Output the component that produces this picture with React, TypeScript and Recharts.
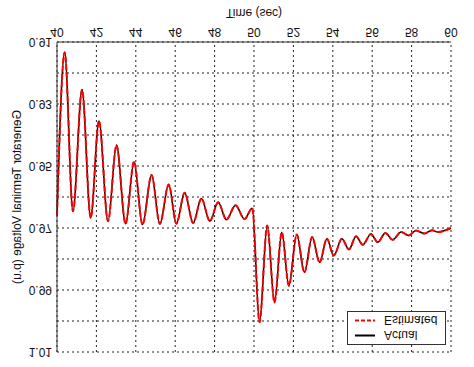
import { LineChart, Line, XAxis, YAxis, CartesianGrid, Legend } from "recharts";

// time stamps (sec) of the turning points
const timeSec = [
  40.0, 40.39, 40.81, 41.27, 41.71, 42.13, 42.59, 43.02, 43.48, 43.91, 44.34, 44.8, 45.22, 45.67, 46.06,
  46.48, 46.91, 47.33, 47.76, 48.18, 48.6, 49.06, 49.52, 49.91, 50.28, 50.67, 51.04, 51.41, 51.77, 52.17,
  52.56, 52.95, 53.33, 53.7, 54.05, 54.46, 54.82, 55.18, 55.52, 55.94, 56.28, 56.67, 57.04, 57.47, 57.85,
  58.22, 58.65, 59.04, 59.32, 60.0,
];

const actualPu = [
  0.966, 0.9133, 0.9646, 0.9254, 0.9667, 0.9355, 0.9678, 0.9433, 0.9686, 0.9486, 0.9689, 0.9529, 0.9687,
  0.956, 0.9686, 0.9586, 0.9684, 0.9605, 0.9678, 0.9617, 0.9673, 0.9627, 0.9671, 0.9636, 1.0004, 0.9692,
  0.994, 0.9714, 0.9886, 0.9721, 0.9843, 0.9729, 0.9811, 0.9735, 0.9789, 0.9735, 0.9769, 0.9727, 0.9754,
  0.9719, 0.9746, 0.9716, 0.9738, 0.9713, 0.9724, 0.9708, 0.9718, 0.9707, 0.9713, 0.97,
];

const estimatedPu = [
  0.966, 0.9133, 0.9646, 0.9254, 0.9667, 0.9355, 0.9678, 0.9433, 0.9686, 0.9486, 0.9689, 0.9529, 0.9687,
  0.956, 0.9686, 0.9586, 0.9684, 0.9605, 0.9678, 0.9617, 0.9673, 0.9627, 0.9671, 0.9636, 1.0004, 0.9692,
  0.994, 0.9714, 0.9886, 0.9721, 0.9843, 0.9729, 0.9811, 0.9735, 0.9789, 0.9735, 0.9769, 0.9727, 0.9754,
  0.9719, 0.9746, 0.9716, 0.9738, 0.9713, 0.9724, 0.9708, 0.9718, 0.9707, 0.9713, 0.97,
];

const xTicks = [40, 42, 44, 46, 48, 50, 52, 54, 56, 58, 60];
const yTicks = [0.91, 0.92, 0.93, 0.94, 0.95, 0.96, 0.97, 0.98, 0.99, 1.0, 1.01];
const yLabels = ["0.91", "0.93", "0.95", "0.97", "0.99", "1.01"];

const rows = timeSec.map((t, i) => ({ t, actual: actualPu[i], estimated: estimatedPu[i] }));

const font = "'Liberation Sans', Arial, sans-serif";

function LegendBox() {
  const item = (label: string, color: string, dash?: string) => (
    <div style={{ display: "flex", alignItems: "center", height: 15 }}>
      <svg width={36} height={15}>
        <line x1={7} x2={27} y1={7.5} y2={7.5} stroke={color} strokeWidth={2} strokeDasharray={dash} />
      </svg>
      <span style={{ fontSize: 12, color: "#111" }}>{label}</span>
    </div>
  );
  return (
    <div
      style={{
        width: 97,
        height: 31,
        paddingTop: 1,
        border: "1px solid #333",
        background: "#fff",
        fontFamily: font,
        boxSizing: "content-box",
      }}
    >
      {item("Actual", "#000")}
      {item("Estimated", "#ff0000", "4 2")}
    </div>
  );
}

export default function App() {
  return (
    <div
      style={{
        position: "absolute",
        left: 0,
        top: 0,
        width: 474,
        height: 367,
        background: "#fff",
        transform: "scaleY(-1)",
      }}
    >
      <LineChart width={474} height={367} data={rows} margin={{ top: 15, right: 23, bottom: 0, left: 12 }}>
        <CartesianGrid stroke="#222" strokeDasharray="2 3" strokeWidth={1} />
        <XAxis
          dataKey="t"
          type="number"
          domain={[40, 60]}
          ticks={xTicks}
          height={42}
          tickLine={false}
          tickSize={0}
          tickMargin={5}
          axisLine={{ stroke: "#333" }}
          tick={{ fill: "#111", fontSize: 12, fontFamily: font }}
          label={{ value: "Time (sec)", position: "insideBottom", offset: 9, fill: "#111", fontSize: 12, fontFamily: font }}
        />
        <XAxis xAxisId="top" orientation="top" dataKey="t" type="number" domain={[40, 60]} height={0} tick={false} tickLine={false} axisLine={{ stroke: "#333" }} />
        <YAxis
          type="number"
          domain={[0.91, 1.01]}
          ticks={yTicks}
          width={45}
          tickLine={false}
          tickSize={0}
          tickMargin={5}
          axisLine={{ stroke: "#333" }}
          tick={{ fill: "#111", fontSize: 12, fontFamily: font }}
          tickFormatter={(v: number) => (yLabels.includes(v.toFixed(2)) ? v.toFixed(2) : "")}
          label={{
            value: "Generator Terminal Voltage (p.u)",
            angle: -90,
            position: "insideLeft",
            offset: 5,
            style: { textAnchor: "middle" },
            fill: "#111",
            fontSize: 12,
            fontFamily: font,
          }}
        />
        <YAxis yAxisId="right" orientation="right" domain={[0.91, 1.01]} width={0} tick={false} tickLine={false} axisLine={{ stroke: "#333" }} />
        <Legend
          layout="vertical"
          align="center"
          verticalAlign="middle"
          wrapperStyle={{ top: 22, left: 347, width: 99 }}
          content={() => <LegendBox />}
        />
        <Line
          type="monotone"
          dataKey="actual"
          name="Actual"
          stroke="#000"
          strokeWidth={1.5}
          dot={false}
          isAnimationActive={false}
        />
        <Line
          type="monotone"
          dataKey="estimated"
          name="Estimated"
          stroke="#ff0000"
          strokeWidth={2}
          strokeDasharray="6 2"
          dot={false}
          isAnimationActive={false}
        />
      </LineChart>
    </div>
  );
}
